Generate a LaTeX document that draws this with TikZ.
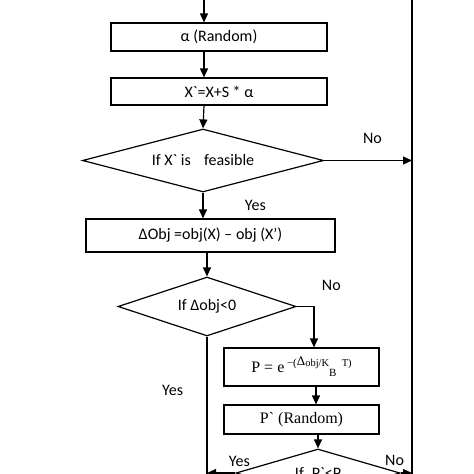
\documentclass[tikz,border=0pt]{standalone}
\usepackage{fontspec}
\setmainfont{Carlito}[Ligatures=TeXOff]
\newfontfamily\serif{Liberation Serif}[Ligatures=TeXOff]
\newcommand\fsz[1]{\fontsize{#1}{#1}\selectfont}
\usetikzlibrary{shapes.geometric,arrows.meta}
\begin{document}
\begin{tikzpicture}[x=1pt,y=-1pt,line width=1.2pt,>={Triangle[length=9pt,width=8pt]},
 box/.style={draw,rectangle,inner sep=0pt,font=\fsz{16}},
 dec/.style={draw,diamond,aspect=3.5,inner sep=0pt,font=\fsz{16}},
 lab/.style={font=\fsz{16}}]
\useasboundingbox (0,0) rectangle (474,474);
\clip (0,0) rectangle (474,474);
\coordinate (top) at (204,-5);
\coordinate (rtop) at (412,-5);
\coordinate (rbot) at (412,490);
\node[box,minimum width=216pt,minimum height=28pt] (alpha) at (219,37) {α (Random)};
\node[box,minimum width=216pt,minimum height=27pt] (xnew) at (219,91.5) {X`=X+S * α};
\node[dec,minimum width=241pt,minimum height=63pt] (feas) at (203,160.5) {If X` is\hspace{0.6em} feasible};
\node[box,minimum width=249pt,minimum height=33pt] (dobj) at (210.5,235.5) {ΔObj =obj(X) – obj (X’)};
\node[dec,minimum width=178pt,minimum height=59pt] (neg) at (207,306.5) {If Δobj<0};
\node[box,minimum width=155pt,minimum height=38pt,font=\serif\fsz{16}] (prob) at (301.5,367)
 {P = e\,\raisebox{6pt}{\fsz{11}−(}\raisebox{7pt}{\fsz{13}Δ}\raisebox{6pt}{\fsz{10.5}obj/K}\raisebox{-4pt}{\fsz{11}B}\raisebox{6pt}{\fsz{10.5}\ \ T)}};
\node[box,minimum width=155pt,minimum height=29pt,font=\serif\fsz{16}] (prand) at (301.5,419.5) {P` (Random)};
\node[dec,minimum width=164pt,minimum height=48pt] (acc) at (318,473) {If\hspace{0.5em}P`<P};
\draw[->] (top) -- (top |- alpha.north);
\draw[->] (top |- alpha.south) -- (top |- xnew.north);
\draw[->] (top |- xnew.south) -- (feas.north);
\draw[->] (feas.east) -- (rtop |- feas.east) node[pos=.55,above=13pt,lab] {No};
\draw[->] (feas.south) -- (feas.south |- dobj.north) node[midway,right=38pt,lab] {Yes};
\draw[->] (neg.north |- dobj.south) -- (neg.north);
\draw[->] (neg.east) -| ([xshift=12.5pt]prob.north) node[pos=.25,above=12pt,xshift=26pt,lab] {No};
\draw[->] ([xshift=14.5pt]prob.south) -- ([xshift=14.5pt]prand.north);
\draw[->] ([xshift=16.5pt]prand.south) -- (acc.north);
\draw (neg.south) -- (neg.south |- rbot) node[pos=.35,left=20pt,lab] {Yes};
\draw[->] (acc.west) -- (neg.south |- acc.west) node[pos=0,above=2pt,xshift=4pt,lab] {Yes};
\draw[->] (acc.east) -- (rbot |- acc.east) node[pos=0,above=3pt,xshift=-6pt,lab] {No};
\draw (rtop) -- (rbot);
\end{tikzpicture}
\end{document}
